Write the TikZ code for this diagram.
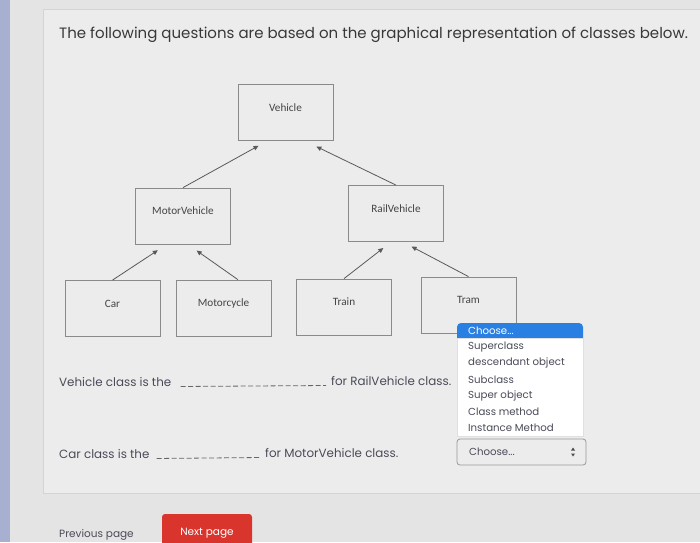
\documentclass[tikz,border=0pt]{standalone}
\usepackage{fontspec}
\setmainfont{Poppins}
\newfontfamily\diagfont{Carlito}
\usepackage{tikz}
\usetikzlibrary{calc,arrows.meta}
\definecolor{pagebg}{HTML}{E4E4E4}
\definecolor{cardbg}{HTML}{ECECEC}
\definecolor{cardline}{HTML}{D4D4D4}
\definecolor{sidebar}{HTML}{A8B0D2}
\definecolor{boxline}{HTML}{8A8A8A}
\definecolor{inktext}{HTML}{444444}
\definecolor{uigrey}{HTML}{4A4B58}
\definecolor{pickblue}{HTML}{2A80E2}
\definecolor{nextred}{HTML}{D9352D}
\tikzset{
	classbox/.style = {draw = boxline, line width = 0.8pt, fill = cardbg,
		minimum width = 95pt, minimum height = 56pt, inner sep = 0pt,
		font = \diagfont\fontsize{11.2}{13}\selectfont, text = inktext,
		text height = 8pt, text depth = 11pt},
	isa/.style = {draw = black!65, line width = 0.8pt,
		-{Triangle[length = 5pt, width = 4.5pt]}},
	uitext/.style = {font = \fontsize{11.9}{14}\selectfont, text = uigrey,
		inner sep = 0pt, anchor = west},
	menuitem/.style = {font = \fontsize{10.2}{12}\selectfont, text = uigrey,
		inner sep = 0pt, anchor = west},
	blank/.style = {draw = black!60, line width = 0.8pt,
		dash pattern = on 5pt off 2.5pt}
}

\begin{document}
\begin{tikzpicture}[x = 1pt, y = -1pt]
	
	\clip (0,0) rectangle (700,542);
	
	% page
	\fill[pagebg] (0,0) rectangle (700,542);
	\fill[sidebar] (0,0) rectangle (10,542);
	\draw[cardline, fill = cardbg] (43,9) rectangle (720,493);
	
	\node[uitext, font = \fontsize{15}{18}\selectfont, text = black!78] (title) at (59,35)
	{The following questions are based on the graphical representation of classes below.};
	
	% classes
	\node[classbox] (vehicle) at (285.5,112.5) {Vehicle};
	\node[classbox] (motor) at (183,216) {MotorVehicle};
	\node[classbox] (rail) at (396,213.5) {RailVehicle};
	\node[classbox] (car) at (112.5,308.5) {Car};
	\node[classbox] (cycle) at (223.5,308) {Motorcycle};
	\node[classbox] (train) at (344,307) {Train};
	\node[classbox] (tram) at (468.5,305) {Tram};
	
	% inheritance
	\draw[isa, shorten >= 10pt] (motor.north) -- ($(vehicle.south west)!0.31!(vehicle.south east)$);
	\draw[isa, shorten >= 13pt] (rail.north) -- ($(vehicle.south west)!0.70!(vehicle.south east)$);
	\draw[isa, shorten >= 10.6pt] (car.north) -- ($(motor.south west)!0.33!(motor.south east)$);
	\draw[isa, shorten >= 10.8pt] ($(cycle.north west)!0.65!(cycle.north east)$)
	-- ($(motor.south west)!0.55!(motor.south east)$);
	\draw[isa, shorten >= 10pt] (train.north) -- ($(rail.south west)!0.45!(rail.south east)$);
	\draw[isa, shorten >= 10pt] (tram.north) -- ($(rail.south west)!0.57!(rail.south east)$);
	
	% questions
	\node[uitext] (q1a) at (59,382) {Vehicle class is the};
	\node[uitext] (q1b) at (331,381) {for RailVehicle class.};
	\draw[blank] ($(q1a.base east)+(9,0)$) -- ($(q1b.base west)+(-5,0)$);
	\node[uitext] (q2a) at (59,454) {Car class is the};
	\node[uitext] (q2b) at (265,453) {for MotorVehicle class.};
	\draw[blank] ($(q2a.base east)+(7,0)$) -- ($(q2b.base west)+(-4,0)$);
	
	% open menu
	\fill[pickblue, rounded corners = 4pt] (457,323) rectangle (583,342);
	\draw[black!12, fill = white] (457,338) rectangle (583,436);
	\fill[pickblue] (457,330) rectangle (583,338);
	\node[menuitem, text = white] (pick0) at (468,331) {Choose...};
	\foreach \lbl [count = \i] in {Superclass, descendant object, Subclass,
		Super object, Class method, Instance Method}
	\node[menuitem] (pick\i) at (468,{347 + (\i - 1)*16.2}) {\lbl};
	
	% select
	\node[draw = black!40, fill = cardbg, rounded corners = 3pt, line width = 0.8pt,
	minimum width = 129pt, minimum height = 26pt] (select) at (521.5,452) {};
	\node[menuitem] (selected) at (469,452) {Choose...};
	\fill[black!70] (571,450.5) -- (575,450.5) -- (573,447.5) -- cycle;
	\fill[black!70] (571,453.5) -- (575,453.5) -- (573,456.5) -- cycle;
	
	% navigation
	\node[uitext, font = \fontsize{10.5}{12}\selectfont] (prev) at (59,535) {Previous page};
	\fill[nextred, rounded corners = 3pt] (162,514) rectangle (252,552);
	\node[uitext, font = \fontsize{10.5}{12}\selectfont, text = white, anchor = center]
	(next) at (207,533) {Next page};
	
\end{tikzpicture}
\end{document}
